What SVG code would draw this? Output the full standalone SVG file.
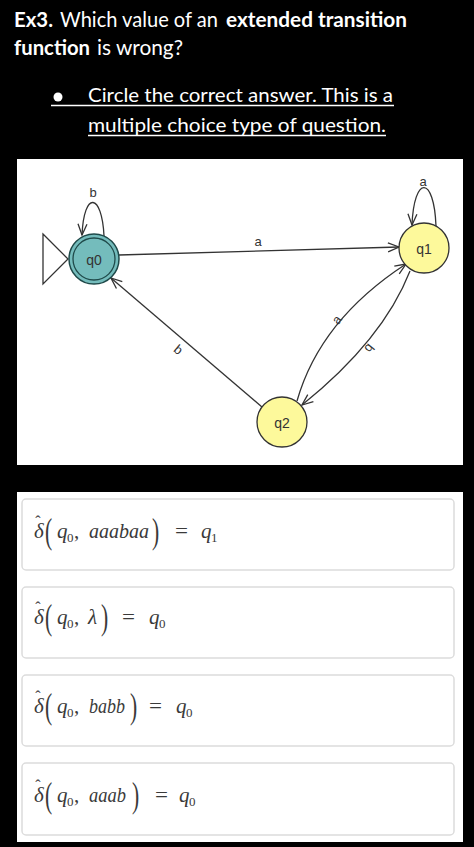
<svg xmlns="http://www.w3.org/2000/svg" width="474" height="847" viewBox="0 0 474 847">
<style>
.title{font-family:Lato,"Open Sans",sans-serif;font-size:21px;fill:#fff}
.b{font-weight:bold}
.bul{font-family:Lato,"Open Sans",sans-serif;font-size:20px;fill:#fff}
.ul{stroke:#fff;stroke-width:1.4}
.edge{fill:none;stroke:#333;stroke-width:1.3}
.lbl{font-family:"Liberation Sans",Arial,sans-serif;font-size:13px;fill:#333;text-anchor:middle}
.nl{font-family:"Liberation Sans",Arial,sans-serif;font-size:14px;fill:#333;text-anchor:middle;dominant-baseline:central}
.yel{fill:#fdf99b;stroke:#333;stroke-width:1.3}
.box{fill:#fff;stroke:#dcdcdc;stroke-width:1.5}
.m{font-family:"Liberation Serif","Times New Roman",serif;font-style:italic;font-size:21px;fill:#3a3a3a}
.mu{font-family:"Liberation Serif","Times New Roman",serif;font-size:21px;fill:#3a3a3a}
.hat{font-size:16px;font-style:normal}
.sub{font-family:"Liberation Serif","Times New Roman",serif;font-size:13px;fill:#3a3a3a}
.par{font-family:"Liberation Serif","Times New Roman",serif;font-size:36px;fill:#3a3a3a}
</style>
<defs>
<marker id="arr" markerUnits="userSpaceOnUse" markerWidth="14" markerHeight="12" refX="0" refY="0" viewBox="-12 -6 14 12" orient="auto">
<path d="M-11,-4.5 L0,0 L-11,4.5" fill="none" stroke="#333" stroke-width="1.3"/>
</marker>
</defs>
<rect x="0" y="0" width="474" height="847" fill="#000"/>
<g id="title">
<text class="title b" x="14" y="27" textLength="39" lengthAdjust="spacingAndGlyphs">Ex3.</text>
<text class="title" x="60" y="27" textLength="158" lengthAdjust="spacingAndGlyphs">Which value of an</text>
<text class="title b" x="226" y="27" textLength="181" lengthAdjust="spacingAndGlyphs">extended transition</text>
<text class="title b" x="14" y="55" textLength="76" lengthAdjust="spacingAndGlyphs">function</text>
<text class="title" x="97" y="55" textLength="86" lengthAdjust="spacingAndGlyphs">is wrong?</text>
</g>
<g id="instruction">
<circle cx="58" cy="97" r="4.5" fill="#fff"/>
<text class="bul" x="88" y="102" textLength="305" lengthAdjust="spacingAndGlyphs">Circle the correct answer. This is a</text>
<text class="bul" x="88" y="132" textLength="298" lengthAdjust="spacingAndGlyphs">multiple choice type of question.</text>
<line class="ul" x1="51" y1="105.5" x2="394" y2="105.5"/>
<line class="ul" x1="88" y1="135.5" x2="386" y2="135.5"/>
</g>
<rect id="diagram-panel" x="17" y="159" width="446" height="306" fill="#fff"/>
<g id="connectors">
<path class="edge" d="M119,255 L399,247" marker-end="url(#arr)"/>
<path class="edge" d="M262,407 L111,278" marker-end="url(#arr)"/>
<path class="edge" d="M297,401 Q320,320 406,264" marker-end="url(#arr)"/>
<path class="edge" d="M410,271 Q383,340 302,405" marker-end="url(#arr)"/>
<path class="edge" d="M104,236 C102,193 84,190 82,235" marker-end="url(#arr)"/>
<path class="edge" d="M436,226 C434,175 414,175 412,225" marker-end="url(#arr)"/>
<text class="lbl" x="258" y="246">a</text>
<text class="lbl" x="93" y="197">b</text>
<text class="lbl" x="423" y="186">a</text>
<text class="lbl" transform="translate(178,350) rotate(40)" y="4">b</text>
<text class="lbl" transform="translate(337,320) rotate(-55)" y="4">a</text>
<text class="lbl" transform="translate(369,348) rotate(129)" y="4">b</text>
</g>
<g id="start">
<path d="M43,234 L68,259 L43,284 Z" fill="#fff" stroke="#333" stroke-width="1.3"/>
</g>
<g id="q0">
<circle cx="94" cy="259" r="25" fill="#74bcbc" stroke="#1f4a4a" stroke-width="1.5"/>
<circle cx="94" cy="259" r="21" fill="none" stroke="#1f4a4a" stroke-width="1.3"/>
<text class="nl" x="94" y="260">q0</text>
</g>
<g id="q1">
<circle class="yel" cx="424" cy="248" r="25"/>
<text class="nl" x="424" y="249">q1</text>
</g>
<g id="q2">
<circle class="yel" cx="282" cy="422" r="25"/>
<text class="nl" x="282" y="423">q2</text>
</g>
<rect id="answers-panel" x="17" y="492" width="446" height="350" fill="#fff"/>
<g id="opt1">
<rect class="box" x="22" y="499" width="432" height="71" rx="4"/>
<text class="m" x="34" y="538">δ<tspan class="hat" dx="-8.5" dy="-11">ˆ</tspan></text>
<text class="par" transform="translate(45,543) scale(0.6,1)">(</text>
<text class="m" x="57" y="538">q</text><text class="sub" x="67" y="542">0</text><text class="mu" x="74" y="538">,</text>
<text class="m" x="89" y="538" textLength="60" lengthAdjust="spacingAndGlyphs">aaabaa</text>
<text class="par" transform="translate(152,543) scale(0.6,1)">)</text>
<text class="mu" x="175" y="538" textLength="13" lengthAdjust="spacingAndGlyphs">=</text>
<text class="m" x="201" y="538">q</text><text class="sub" x="211" y="542">1</text>
</g>
<g id="opt2">
<rect class="box" x="22" y="587" width="432" height="71" rx="4"/>
<text class="m" x="34" y="624">δ<tspan class="hat" dx="-8.5" dy="-11">ˆ</tspan></text>
<text class="par" transform="translate(45,629) scale(0.6,1)">(</text>
<text class="m" x="57" y="624">q</text><text class="sub" x="67" y="628">0</text><text class="mu" x="74" y="624">,</text>
<text class="m" x="88" y="624">λ</text>
<text class="par" transform="translate(101,629) scale(0.6,1)">)</text>
<text class="mu" x="122" y="624" textLength="13" lengthAdjust="spacingAndGlyphs">=</text>
<text class="m" x="149" y="624">q</text><text class="sub" x="159" y="628">0</text>
</g>
<g id="opt3">
<rect class="box" x="22" y="675" width="432" height="71" rx="4"/>
<text class="m" x="34" y="713">δ<tspan class="hat" dx="-8.5" dy="-11">ˆ</tspan></text>
<text class="par" transform="translate(45,718) scale(0.6,1)">(</text>
<text class="m" x="57" y="713">q</text><text class="sub" x="67" y="717">0</text><text class="mu" x="74" y="713">,</text>
<text class="m" x="89" y="713" textLength="36" lengthAdjust="spacingAndGlyphs">babb</text>
<text class="par" transform="translate(130,718) scale(0.6,1)">)</text>
<text class="mu" x="149" y="713" textLength="13" lengthAdjust="spacingAndGlyphs">=</text>
<text class="m" x="176" y="713">q</text><text class="sub" x="186" y="717">0</text>
</g>
<g id="opt4">
<rect class="box" x="22" y="763" width="432" height="72" rx="4"/>
<text class="m" x="34" y="802">δ<tspan class="hat" dx="-8.5" dy="-11">ˆ</tspan></text>
<text class="par" transform="translate(45,807) scale(0.6,1)">(</text>
<text class="m" x="57" y="802">q</text><text class="sub" x="67" y="806">0</text><text class="mu" x="74" y="802">,</text>
<text class="m" x="89" y="802" textLength="37" lengthAdjust="spacingAndGlyphs">aaab</text>
<text class="par" transform="translate(132,807) scale(0.6,1)">)</text>
<text class="mu" x="155" y="802" textLength="13" lengthAdjust="spacingAndGlyphs">=</text>
<text class="m" x="179" y="802">q</text><text class="sub" x="189" y="806">0</text>
</g>
</svg>
